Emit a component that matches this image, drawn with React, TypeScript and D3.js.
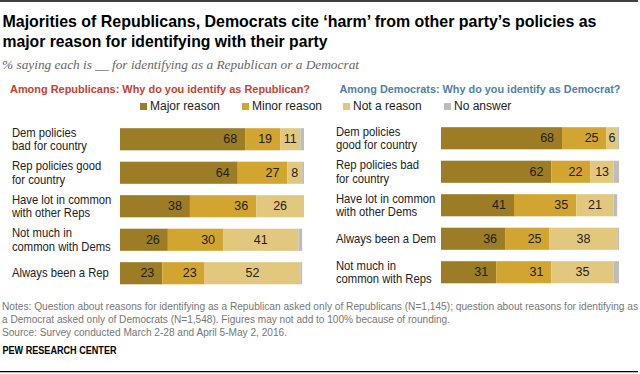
import React from "react";
import * as d3 from "d3";

// Republicans panel
const repCategories = [
  ["Dem policies", "bad for country"],
  ["Rep policies good", "for country"],
  ["Have lot in common", "with other Reps"],
  ["Not much in", "common with Dems"],
  ["Always been a Rep"],
];
const repMajor = [68, 64, 38, 26, 23];
const repMinor = [19, 27, 36, 30, 23];
const repNot = [11, 8, 26, 41, 52];
const repNoAnswer = [2, 1, 0, 2, 1];

// Democrats panel
const demCategories = [
  ["Dem policies", "good for country"],
  ["Rep policies bad", "for country"],
  ["Have lot in common", "with other Dems"],
  ["Always been a Dem"],
  ["Not much in", "common with Reps"],
];
const demMajor = [68, 62, 41, 36, 31];
const demMinor = [25, 22, 35, 25, 31];
const demNot = [6, 13, 21, 38, 35];
const demNoAnswer = [1, 3, 2, 1, 3];

const seriesNames = ["Major reason", "Minor reason", "Not a reason", "No answer"];
const colors = ["#9c7c24", "#d2a530", "#e2c87f", "#bdbdbd"];

const sans = "'Liberation Sans', Arial, sans-serif";

interface PanelProps {
  categories: string[][];
  series: number[][];
  x0: number;
  barWidth: number;
  top: number;
  labelX: number;
}

const Panel: React.FC<PanelProps> = ({ categories, series, x0, barWidth, top, labelX }) => {
  const x = d3.scaleLinear().domain([0, 100]).range([x0, x0 + barWidth]);
  const y = d3
    .scaleBand<number>()
    .domain(d3.range(categories.length))
    .range([top, top + 33.5 * categories.length])
    .paddingInner(0.34)
    .paddingOuter(0.17);
  const bh = y.bandwidth();

  return (
    <g>
      {categories.map((lines, i) => {
        const yc = (y(i) as number) + bh / 2;
        const stack = d3.stack<number>().keys(["0", "1", "2", "3"]).value((_, k) => series[+k][i]);
        const layers = stack([i]);
        return (
          <g key={i}>
            {lines.map((ln, j) => (
              <text
                key={j}
                transform={`translate(${labelX},${yc + 4 + (j - (lines.length - 1) / 2) * 13.5}) scale(0.9,1)`}
                fontSize={12.5}
                fontFamily={sans}
                fill="#222"
              >
                {ln}
              </text>
            ))}
            {layers.map((layer, k) => {
              const [a, b] = layer[0];
              const v = series[k][i];
              return (
                <g key={k}>
                  <rect x={x(a)} y={y(i)} width={x(b) - x(a)} height={bh} fill={colors[k]} />
                  {k < 3 && v > 0 && (
                    <text
                      x={k === 2 ? (x(a) + x(b)) / 2 : x(b) - 8}
                      y={yc + 3.8}
                      textAnchor={k === 2 ? "middle" : "end"}
                      fontSize={12.5}
                      fontFamily={sans}
                      fill="#222"
                    >
                      {v}
                    </text>
                  )}
                </g>
              );
            })}
          </g>
        );
      })}
    </g>
  );
};

const App: React.FC = () => {
  const legendX = [140, 242, 343, 444];
  const fit = "spacingAndGlyphs";
  return (
    <svg width={640} height={374} style={{ position: "absolute", left: 0, top: 0, background: "#fff" }}>
      <line x1={0} x2={638} y1={1} y2={1} stroke="#000" strokeWidth={1.3} />
      <text x={2.5} y={27.3} fontSize={16.5} fontWeight="bold" fontFamily={sans} fill="#000" textLength={594} lengthAdjust={fit}>
        Majorities of Republicans, Democrats cite ‘harm’ from other party’s policies as
      </text>
      <text x={2.5} y={47} fontSize={16.5} fontWeight="bold" fontFamily={sans} fill="#000" textLength={325} lengthAdjust={fit}>
        major reason for identifying with their party
      </text>
      <text
        x={2}
        y={69}
        fontSize={13}
        fontStyle="italic"
        fontFamily="'Liberation Serif', Georgia, serif"
        fill="#666"
        textLength={357}
        lengthAdjust={fit}
      >
        % saying each is __ for identifying as a Republican or a Democrat
      </text>
      <text x={10} y={92.5} fontSize={11.5} fontWeight="bold" fontFamily={sans} fill="#c8412e" textLength={300} lengthAdjust={fit}>
        Among Republicans: Why do you identify as Republican?
      </text>
      <text x={339.5} y={92.5} fontSize={11.5} fontWeight="bold" fontFamily={sans} fill="#4f7fa6" textLength={281} lengthAdjust={fit}>
        Among Democrats: Why do you identify as Democrat?
      </text>
      {seriesNames.map((s, i) => (
        <g key={s}>
          <rect x={legendX[i]} y={103} width={7} height={7} fill={colors[i]} />
          <text x={legendX[i] + 10} y={110} fontSize={12} fontFamily={sans} fill="#222">
            {s}
          </text>
        </g>
      ))}
      <Panel
        categories={repCategories}
        series={[repMajor, repMinor, repNot, repNoAnswer]}
        x0={120}
        barWidth={184}
        top={122.5}
        labelX={12}
      />
      <Panel
        categories={demCategories}
        series={[demMajor, demMinor, demNot, demNoAnswer]}
        x0={441}
        barWidth={178}
        top={121.5}
        labelX={336}
      />
      <g fontSize={10} fontFamily={sans} fill="#777">
        <text x={2} y={310} textLength={636} lengthAdjust={fit}>
          Notes: Question about reasons for identifying as a Republican asked only of Republicans (N=1,145); question about reasons for identifying as
        </text>
        <text x={2} y={322.5} textLength={448} lengthAdjust={fit}>
          a Democrat asked only of Democrats (N=1,548). Figures may not add to 100% because of rounding.
        </text>
        <text x={2} y={335.7} textLength={285} lengthAdjust={fit}>
          Source: Survey conducted March 2-28 and April 5-May 2, 2016.
        </text>
      </g>
      <text x={2.5} y={354.3} fontSize={10} fontWeight="bold" fontFamily={sans} fill="#000" textLength={114} lengthAdjust={fit}>
        PEW RESEARCH CENTER
      </text>
      <line x1={0} x2={638} y1={371.7} y2={371.7} stroke="#000" strokeWidth={1.3} />
    </svg>
  );
};

export default App;
